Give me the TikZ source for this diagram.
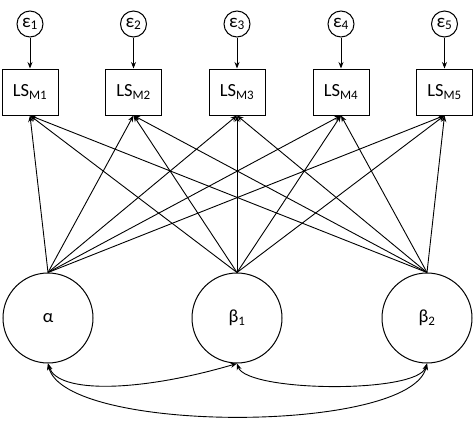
\documentclass[tikz,border=0pt]{standalone}
\usepackage{fontspec}
\setmainfont{Carlito}
\usetikzlibrary{arrows.meta}
\begin{document}
\begin{tikzpicture}[x=1pt,y=-1pt,
  err/.style={draw,circle,minimum size=26pt,inner sep=0pt,font=\fontsize{19}{21}\selectfont,line width=1pt},
  obs/.style={draw,rectangle,minimum width=56pt,minimum height=46pt,inner sep=0pt,font=\fontsize{18.5}{21}\selectfont,line width=1pt},
  lat/.style={draw,circle,minimum size=90pt,inner sep=0pt,font=\fontsize{18.5}{21}\selectfont,line width=1pt},
  arr/.style={-{Stealth[length=6.5pt,width=5pt]},line width=0.9pt},
  dbl/.style={{Stealth[length=6.5pt,width=5pt]}-{Stealth[length=6.5pt,width=5pt]},line width=0.9pt}]
\useasboundingbox (0,0) rectangle (474,426);
\foreach \i/\x in {1/30,2/133.5,3/237,4/341,5/444.5}{
  \node[err] (e\i) at (\x,24) {ε\textsubscript{\i}};
  \node[obs] (m\i) at (\x,92) {LS\textsubscript{M\i}};
  \draw[arr] (e\i) -- (m\i);
}
\node[lat] (a) at (48,318) {α};
\node[lat] (b1) at (237,318) {β\textsubscript{1}};
\node[lat] (b2) at (427,318) {β\textsubscript{2}};
\foreach \l in {a,b1,b2}{
  \foreach \i in {1,...,5}{
    \draw[arr] (\l.north) -- (m\i.south);
  }
}
\draw[dbl] (a.south) .. controls (58,394) and (140,392) .. (b1.south);
\draw[dbl] (b1.south) .. controls (247,392) and (417,394) .. (b2.south);
\draw[dbl] (a.south) .. controls (64,434) and (411,434) .. (b2.south);
\end{tikzpicture}
\end{document}
